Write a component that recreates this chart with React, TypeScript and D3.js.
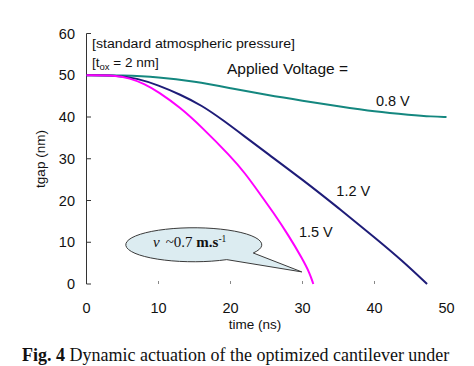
import { useEffect, useRef } from "react";
import * as d3 from "d3";

// gap vs time for each applied voltage
const time08 = [0, 5, 10, 15, 20, 25, 30, 35, 40, 45, 48, 50];
const gap08 = [50, 50, 49.6, 48.5, 46.9, 45.3, 43.9, 42.6, 41.3, 40.5, 40.1, 40];

const time12 = [0, 4, 7, 10, 13, 16, 19, 22, 25, 30, 35, 40, 44, 47.3];
const gap12 = [50, 50, 49.3, 47.6, 45.4, 42.8, 39.2, 35.3, 31.4, 25, 18.2, 11.2, 5.4, 0];

const time15 = [0, 4, 6, 8, 10, 13, 16, 20, 22, 24, 26, 28, 30, 31, 31.5];
const gap15 = [50, 50, 49.3, 48, 46, 42.3, 37.6, 30.6, 26.6, 21.8, 17, 11.8, 6, 2.6, 0];

const xTicks = [0, 10, 20, 30, 40, 50];
const yTicks = [0, 10, 20, 30, 40, 50, 60];

const series = [
  { name: "0.8 V", t: time08, v: gap08, color: "#14877f", lx: 40.2, ly: 42.6 },
  { name: "1.2 V", t: time12, v: gap12, color: "#1e1c78", lx: 34.7, ly: 21 },
  { name: "1.5 V", t: time15, v: gap15, color: "#ff00ff", lx: 29.5, ly: 11.2 },
];

export default function App() {
  const svgRef = useRef<SVGSVGElement>(null);

  useEffect(() => {
    if (!svgRef.current) return;
    const svg = d3.select(svgRef.current);
    svg.selectAll("*").remove();

    const sans = "'Liberation Sans', Arial, sans-serif";
    const serif = "'Liberation Serif', 'Times New Roman', serif";

    const x = d3.scaleLinear().domain([0, 50]).range([86.5, 446.5]);
    const y = d3.scaleLinear().domain([0, 60]).range([284, 33.5]);

    // y axis line + inner ticks
    svg.append("line")
      .attr("x1", x(0)).attr("x2", x(0))
      .attr("y1", y(60)).attr("y2", y(0))
      .attr("stroke", "#333").attr("stroke-width", 1);

    yTicks.forEach((v) => {
      svg.append("line")
        .attr("x1", x(0)).attr("x2", x(0) + 4.5)
        .attr("y1", y(v)).attr("y2", y(v))
        .attr("stroke", "#333").attr("stroke-width", 1);
      svg.append("text")
        .attr("x", 75).attr("y", y(v) + 5)
        .attr("text-anchor", "end")
        .attr("font-family", sans).attr("font-size", 14.5)
        .attr("fill", "#111")
        .text(v);
    });

    // x ticks (no axis line in the original)
    xTicks.slice(1, -1).forEach((t) => {
      svg.append("line")
        .attr("x1", x(t)).attr("x2", x(t))
        .attr("y1", y(0) - 3).attr("y2", y(0))
        .attr("stroke", "#888").attr("stroke-width", 1);
    });
    xTicks.forEach((t) => {
      svg.append("text")
        .attr("x", x(t)).attr("y", 312.5)
        .attr("text-anchor", "middle")
        .attr("font-family", sans).attr("font-size", 14.5)
        .attr("fill", "#111")
        .text(t);
    });

    // axis titles
    svg.append("text")
      .attr("x", 255).attr("y", 328.5)
      .attr("text-anchor", "middle")
      .attr("font-family", sans).attr("font-size", 13.5)
      .attr("fill", "#111")
      .text("time (ns)");
    svg.append("text")
      .attr("transform", `translate(45,159) rotate(-90)`)
      .attr("text-anchor", "middle")
      .attr("font-family", sans).attr("font-size", 13.5)
      .attr("fill", "#111")
      .text("tgap (nm)");

    // curves
    const line = d3.line<[number, number]>()
      .x((d) => x(d[0]))
      .y((d) => y(d[1]))
      .curve(d3.curveBasis);

    series.forEach((s) => {
      const pts = s.t.map((t, i) => [t, s.v[i]] as [number, number]);
      svg.append("path")
        .attr("d", line(pts))
        .attr("fill", "none")
        .attr("stroke", s.color)
        .attr("stroke-width", 2);
      svg.append("text")
        .attr("x", x(s.lx)).attr("y", y(s.ly))
        .attr("font-family", sans).attr("font-size", 14.5)
        .attr("fill", "#111")
        .text(s.name);
    });

    // annotations
    svg.append("text")
      .attr("x", 92).attr("y", 48)
      .attr("font-family", sans).attr("font-size", 12.5)
      .attr("textLength", 203).attr("lengthAdjust", "spacingAndGlyphs")
      .attr("fill", "#111")
      .text("[standard atmospheric pressure]");
    const tox = svg.append("text")
      .attr("x", 92).attr("y", 66.5)
      .attr("font-family", sans).attr("font-size", 13.5)
      .attr("fill", "#111");
    tox.append("tspan").text("[t");
    tox.append("tspan").attr("font-size", 9.5).attr("dy", 3).text("ox");
    tox.append("tspan").attr("dy", -3).text(" = 2 nm]");

    svg.append("text")
      .attr("x", 227).attr("y", 74)
      .attr("font-family", sans).attr("font-size", 14)
      .attr("textLength", 121).attr("lengthAdjust", "spacingAndGlyphs")
      .attr("fill", "#111")
      .text("Applied Voltage =");

    // speech bubble pointing at the 1.5 V curve
    const cx = x(14.9), cy = y(9.4), rx = 68, ry = 17;
    const a1 = (29 * Math.PI) / 180, a2 = (61 * Math.PI) / 180;
    const pA = [cx + rx * Math.cos(a1), cy + ry * Math.sin(a1)];
    const pB = [cx + rx * Math.cos(a2), cy + ry * Math.sin(a2)];
    const tip = [x(29.9), y(2.9)];
    svg.append("path")
      .attr("d", `M${pB[0]},${pB[1]} A${rx},${ry} 0 1 1 ${pA[0]},${pA[1]} L${tip[0]},${tip[1]} Z`)
      .attr("fill", "#dcecf1")
      .attr("stroke", "#3a3a3a")
      .attr("stroke-width", 1);

    const nu = svg.append("text")
      .attr("x", 153).attr("y", 247)
      .attr("font-family", serif).attr("font-size", 15)
      .attr("fill", "#111");
    nu.append("tspan").attr("font-style", "italic").text("ν");
    nu.append("tspan").attr("dx", 6).text("~0.7 ");
    nu.append("tspan").attr("font-weight", "bold").text("m.s");
    nu.append("tspan").attr("font-size", 9.5).attr("dy", -5).text("-1");

    // figure caption
    const cap = svg.append("text")
      .attr("x", 22).attr("y", 361)
      .attr("font-family", serif).attr("font-size", 18)
      .attr("fill", "#111");
    cap.append("tspan").attr("font-weight", "bold").text("Fig. 4");
    cap.append("tspan").text(" Dynamic actuation of the optimized cantilever under");
  }, []);

  return (
    <svg
      ref={svgRef}
      width={474}
      height={366}
      style={{ position: "absolute", left: 0, top: 0, background: "#fff" }}
    />
  );
}
